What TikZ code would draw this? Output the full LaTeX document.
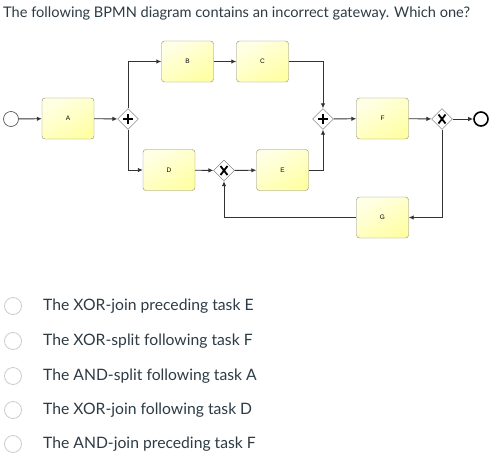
\documentclass[tikz,border=0pt]{standalone}
\usepackage{fontspec}
\setmainfont{Lato}
\newfontfamily\taskfont{Liberation Sans}
\usetikzlibrary{arrows.meta}
\usetikzlibrary{shapes.geometric}
\definecolor{qtext}{HTML}{2D3B45}
\definecolor{radio}{HTML}{C7CDD1}
\definecolor{taskline}{HTML}{8A8A6A}
\definecolor{flowline}{HTML}{333333}

\tikzset{
  task/.style = {draw = taskline, rounded corners = 3pt, minimum width = 52pt,
    minimum height = 41pt, inner sep = 0pt, top color = yellow!10!white,
    bottom color = yellow!35!white, shading angle = 30,
    font = \taskfont\fontsize{6.5}{7}\selectfont},
  gate/.style = {diamond, draw = gray!80!black, fill = white, minimum size = 21pt,
    inner sep = 0pt},
  flow/.style = {draw = flowline, line width = .9pt, -{Latex[length=5pt, width=4.5pt]}},
  answer/.style = {anchor = west, inner sep = 0pt, text = qtext, font = \fontsize{15.7}{17}\selectfont},
}

\begin{document}
\begin{tikzpicture}[x = 1pt, y = -1pt]
\useasboundingbox (0, 0) rectangle (499, 464);

\node [anchor = west, inner sep = 0pt, text = qtext, font = \fontsize{14.6}{16}\selectfont] (question) at (3, 13)
  {The following BPMN diagram contains an incorrect gateway. Which one?};

% events
\node [circle, draw = gray!70!black, line width = .7pt, minimum size = 15pt, inner sep = 0pt] (start) at (11, 119) {};
\node [circle, draw = black, line width = 1.6pt, minimum size = 14pt, inner sep = 0pt] (end) at (481, 119) {};

% tasks
\node [task] (A) at (68, 118.5) {A};
\node [task] (B) at (187.5, 61.5) {B};
\node [task] (C) at (262.5, 61.5) {C};
\node [task] (D) at (169, 170) {D};
\node [task] (E) at (282.5, 170) {E};
\node [task] (F) at (382.5, 118.5) {F};
\node [task] (G) at (382.5, 217.5) {G};

% gateways
\node [gate] (andsplit) at (128, 119) {};
\node [gate] (andjoin) at (323, 119) {};
\node [gate] (xorjoin) at (224, 170.5) {};
\node [gate] (xorsplit) at (442, 119) {};
\foreach \g in {andsplit, andjoin}
  \draw [line width = 1.3pt] ([xshift = -5pt] \g.center) -- ([xshift = 5pt] \g.center)
    ([yshift = -5pt] \g.center) -- ([yshift = 5pt] \g.center);
\foreach \g in {xorjoin, xorsplit}
  \draw [line width = 1.8pt] ([shift = {(-3.5pt, -4.5pt)}] \g.center) -- ([shift = {(3.5pt, 4.5pt)}] \g.center)
    ([shift = {(-3.5pt, 4.5pt)}] \g.center) -- ([shift = {(3.5pt, -4.5pt)}] \g.center);

% sequence flows
\draw [flow] (start) -- (A);
\draw [flow] (A) -- (andsplit);
\draw [flow] (andsplit) |- (B);
\draw [flow] (andsplit) |- (D);
\draw [flow] (B) -- (C);
\draw [flow] (D) -- (xorjoin);
\draw [flow] (xorjoin) -- (E);
\draw [flow] (C) -| (andjoin);
\draw [flow] (E) -| (andjoin);
\draw [flow] (andjoin) -- (F);
\draw [flow] (F) -- (xorsplit);
\draw [flow] (xorsplit) -- (end);
\draw [flow] (xorsplit) |- (G);
\draw [flow] (G) -| (xorjoin);

% answers
\foreach \y/\txt [count = \i] in {306/The XOR-join preceding task E, 341/The XOR-split following task F,
    376/The AND-split following task A, 410/The XOR-join following task D, 444/The AND-join preceding task F} {
  \node [circle, draw = radio, line width = .8pt, minimum size = 17pt, inner sep = 0pt] (radio\i) at (13, \y) {};
  \node [answer] (answer\i) at (43, \y) {\txt};
}
\end{tikzpicture}
\end{document}
